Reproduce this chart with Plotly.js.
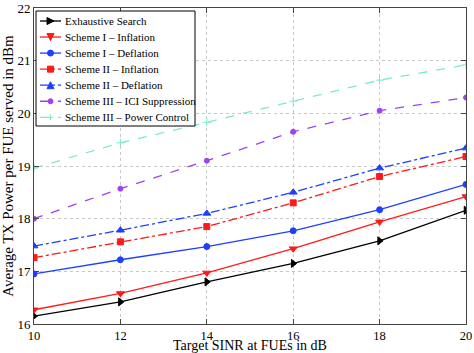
<!DOCTYPE html>
<html>
<head>
<meta charset="utf-8">
<script src="https://cdn.plot.ly/plotly-3.0.1.min.js"></script>
<style>html,body{margin:0;padding:0;background:#fff;}#chart{width:474px;height:353px;}</style>
</head>
<body>
<div id="chart"></div>
<script>
const sinr = [10, 12, 14, 16, 18, 20];
const exhaustive = [16.15, 16.42, 16.80, 17.15, 17.58, 18.16];
const s1Inflation = [16.27, 16.58, 16.97, 17.43, 17.94, 18.42];
const s1Deflation = [16.95, 17.22, 17.47, 17.77, 18.17, 18.65];
const s2Inflation = [17.26, 17.56, 17.85, 18.30, 18.80, 19.18];
const s2Deflation = [17.48, 17.78, 18.10, 18.50, 18.96, 19.34];
const s3ICI = [18.00, 18.57, 19.10, 19.65, 20.05, 20.30];
const s3Power = [18.96, 19.44, 19.83, 20.23, 20.63, 20.92];
const names = ["Exhaustive Search", "Scheme I \u2013 Inflation", "Scheme I \u2013 Deflation",
  "Scheme II \u2013 Inflation", "Scheme II \u2013 Deflation", "Scheme III \u2013 ICI Suppression",
  "Scheme III \u2013 Power Control"];
const xTicks = [10, 12, 14, 16, 18, 20];
const yTicks = [16, 17, 18, 19, 20, 21, 22];
const xTitle = "Target SINR at FUEs in dB";
const yTitle = "Average TX Power per FUE served in dBm";

const series = [exhaustive, s1Inflation, s1Deflation, s2Inflation, s2Deflation, s3ICI, s3Power];
const colors = ["#000000", "#ff1a1a", "#1f3fff", "#ff1a1a", "#1f3fff", "#a040f0", "#7fe8d4"];
const dashes = ["solid", "solid", "solid", "dashdot", "dashdot", "dash", "dash"];
const symbols = ["triangle-right", "triangle-down", "circle", "square", "triangle-up", "circle", "cross-thin"];
const sizes = [7, 7, 6, 6, 7, 5, 6];

const traces = series.map((y, i) => ({
  x: sinr, y: y, name: names[i], type: "scatter", mode: "lines+markers",
  line: {color: colors[i], width: 1.3, dash: dashes[i]},
  marker: {symbol: symbols[i], size: sizes[i], color: colors[i], line: {color: colors[i], width: 1}}
}));

// Custom legend (pixel offsets from the top-left corner of the plot area)
function px(o) {
  return Object.assign({xref: "paper", yref: "paper", xsizemode: "pixel", ysizemode: "pixel",
    xanchor: 0, yanchor: 1, layer: "above"}, o);
}
function markerShape(sym, size, cx, cy, color) {
  const r = size / 2;
  const base = {line: {color: color, width: 1}, fillcolor: color};
  const tri = (pts) => px(Object.assign({type: "path",
    path: "M" + pts.map(p => p[0] + "," + p[1]).join(" L") + " Z"}, base));
  if (sym === "circle") return [px(Object.assign({type: "circle", x0: cx - r, x1: cx + r, y0: cy - r, y1: cy + r}, base))];
  if (sym === "square") return [px(Object.assign({type: "rect", x0: cx - r, x1: cx + r, y0: cy - r, y1: cy + r}, base))];
  if (sym === "triangle-right") return [tri([[cx - r, cy + r], [cx + r, cy], [cx - r, cy - r]])];
  if (sym === "triangle-down") return [tri([[cx - r, cy + r], [cx + r, cy + r], [cx, cy - r]])];
  if (sym === "triangle-up") return [tri([[cx - r, cy - r], [cx + r, cy - r], [cx, cy + r]])];
  return [px({type: "line", x0: cx - r, x1: cx + r, y0: cy, y1: cy, line: {color: color, width: 1}}),
          px({type: "line", x0: cx, x1: cx, y0: cy - r, y1: cy + r, line: {color: color, width: 1}})];
}
const shapes = [px({type: "rect", x0: 2, x1: 161, y0: -3, y1: -118, line: {color: "#000", width: 1}, fillcolor: "#fff"})];
const annotations = [];
names.forEach((n, i) => {
  const cy = -(13 + 16.05 * i);
  shapes.push(px({type: "line", x0: 6, x1: 27, y0: cy, y1: cy, line: {color: colors[i], width: 1.3, dash: dashes[i]}}));
  shapes.push(...markerShape(symbols[i], sizes[i], 16.5, cy, colors[i]));
  annotations.push({xref: "paper", yref: "paper", x: 0, y: 1, xanchor: "left", yanchor: "middle",
    xshift: 29, yshift: cy, text: n, showarrow: false, font: {size: 11}});
});
// x-axis title as an annotation at the bottom edge
annotations.push({xref: "paper", yref: "paper", x: 0.5, y: 0, xanchor: "center", yanchor: "bottom",
  yshift: -30, text: xTitle, showarrow: false, font: {size: 14}, borderpad: 0});

const layout = {
  width: 474, height: 353,
  margin: {l: 34, r: 8, t: 8, b: 29},
  paper_bgcolor: "#fff", plot_bgcolor: "#fff",
  font: {family: "Liberation Serif, Times New Roman, serif", size: 13, color: "#000"},
  showlegend: false,
  shapes: shapes, annotations: annotations,
  xaxis: {range: [10, 20], tickvals: xTicks, ticktext: xTicks.map(String), ticks: "inside", ticklen: 5,
    showline: true, mirror: "ticks", linecolor: "#444", linewidth: 1, zeroline: false,
    showgrid: true, gridcolor: "#c8c8c8", griddash: "dot", gridwidth: 1, tickfont: {size: 12.5}},
  yaxis: {range: [16, 22], tickvals: yTicks, ticktext: yTicks.map(String), ticks: "inside", ticklen: 5,
    showline: true, mirror: "ticks", linecolor: "#444", linewidth: 1, zeroline: false,
    showgrid: true, gridcolor: "#c8c8c8", griddash: "dot", gridwidth: 1,
    title: {text: yTitle, font: {size: 15}, standoff: 2}}
};
Plotly.newPlot("chart", traces, layout, {displayModeBar: false, staticPlot: true});
</script>
</body>
</html>
